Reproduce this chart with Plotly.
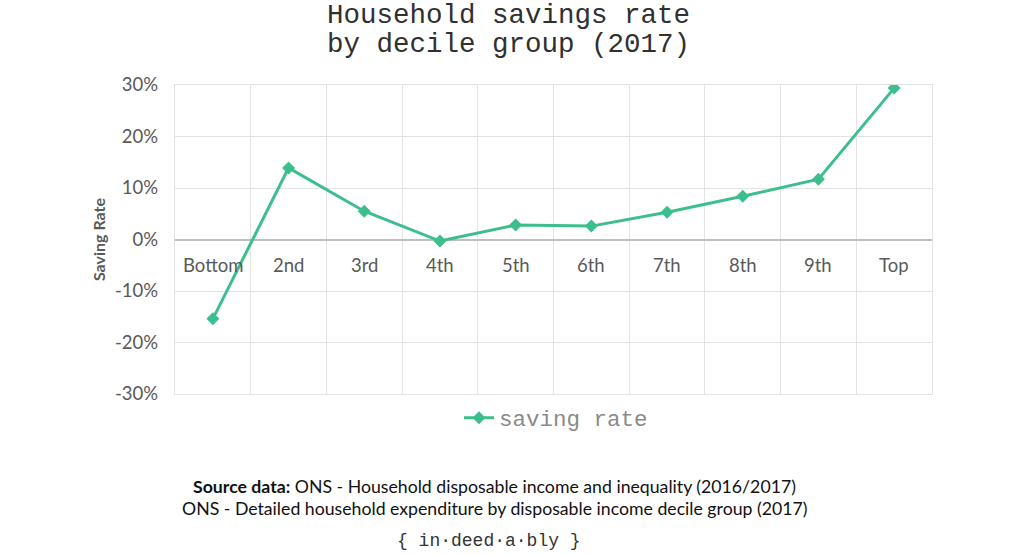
import plotly.graph_objects as go

categories = ["Bottom", "2nd", "3rd", "4th", "5th", "6th", "7th", "8th", "9th", "Top"]
saving_rate = [-15.4, 13.9, 5.5, -0.3, 2.8, 2.6, 5.3, 8.4, 11.7, 29.4]
y_ticks = [-30, -20, -10, 0, 10, 20, 30]
y_tick_labels = [f"{v}%" for v in y_ticks]

title_lines = ["Household savings rate", "by decile group (2017)"]
source_lines = [
    "<b>Source data:</b> ONS - Household disposable income and inequality (2016/2017)",
    "ONS - Detailed household expenditure by disposable income decile group (2017)",
]
brand = "{ in·deed·a·bly }"

GREEN = "#3cbf8c"
GRAY = "#595959"
GRID = "#e3e3e3"

W, H = 1024, 555
L, T, R, B = 175, 85, W - 932, H - 394
plot_w = W - L - R
plot_h = H - T - B

def px_x(px):
    return (px - L) / plot_w

def px_y(py):
    return (H - B - py) / plot_h

fig = go.Figure()
fig.add_trace(go.Scatter(
    x=categories, y=saving_rate, name="saving rate", mode="lines+markers",
    line=dict(color=GREEN, width=3),
    marker=dict(symbol="diamond", size=10, color=GREEN),
))

ann = []
for c in categories:
    ann.append(dict(x=c, y=0, xref="x", yref="y", text=c, showarrow=False,
                    yshift=-25, font=dict(family="Lato", size=18.5, color=GRAY)))
for i, t in enumerate(title_lines):
    ann.append(dict(x=px_x(508), y=px_y(15 + 30 * i), xref="paper", yref="paper",
                    text=t, showarrow=False, xanchor="center", yanchor="middle",
                    font=dict(family="Liberation Mono", size=27.5, color="#303030")))
for i, t in enumerate(source_lines):
    ann.append(dict(x=px_x(494), y=px_y(486 + 22 * i), xref="paper", yref="paper",
                    text=t, showarrow=False, xanchor="center", yanchor="middle",
                    font=dict(family="Lato", size=17.7, color="#111111")))
ann.append(dict(x=px_x(489), y=px_y(541), xref="paper", yref="paper",
                text=brand, showarrow=False, xanchor="center", yanchor="middle",
                font=dict(family="Liberation Mono", size=18, color="#333333")))

fig.update_layout(
    width=W, height=H,
    margin=dict(l=L, r=R, t=T, b=B),
    paper_bgcolor="white", plot_bgcolor="white",
    showlegend=True,
    legend=dict(orientation="h", x=px_x(556), xanchor="center", y=px_y(418), yanchor="middle",
                font=dict(family="Liberation Mono", size=22.5, color="#8a8a8a")),
    xaxis=dict(type="category", range=[-0.5, 9.5], tickson="boundaries", showgrid=True,
               gridcolor=GRID, gridwidth=1.3, showticklabels=False, ticks="",
               zeroline=False, showline=True, mirror=True, linecolor=GRID, linewidth=1.3,
               fixedrange=True),
    yaxis=dict(range=[-30, 30], tickvals=y_ticks, ticktext=y_tick_labels, showgrid=True,
               gridcolor=GRID, gridwidth=1.3, zeroline=True, zerolinecolor="#bdbdbd",
               zerolinewidth=1.6, tickfont=dict(family="Lato", size=18.5, color=GRAY),
               ticks="", ticklabelstandoff=12, showline=True, mirror=True, linecolor=GRID,
               linewidth=1.3, automargin=False,
               title=dict(text="<b>Saving Rate</b>", standoff=5,
                          font=dict(family="Lato", size=16, color=GRAY))),
    annotations=ann,
)

fig.write_html("out.html", config={"displayModeBar": False},
               post_script="document.body.style.margin='0';document.body.style.overflow='hidden';")
